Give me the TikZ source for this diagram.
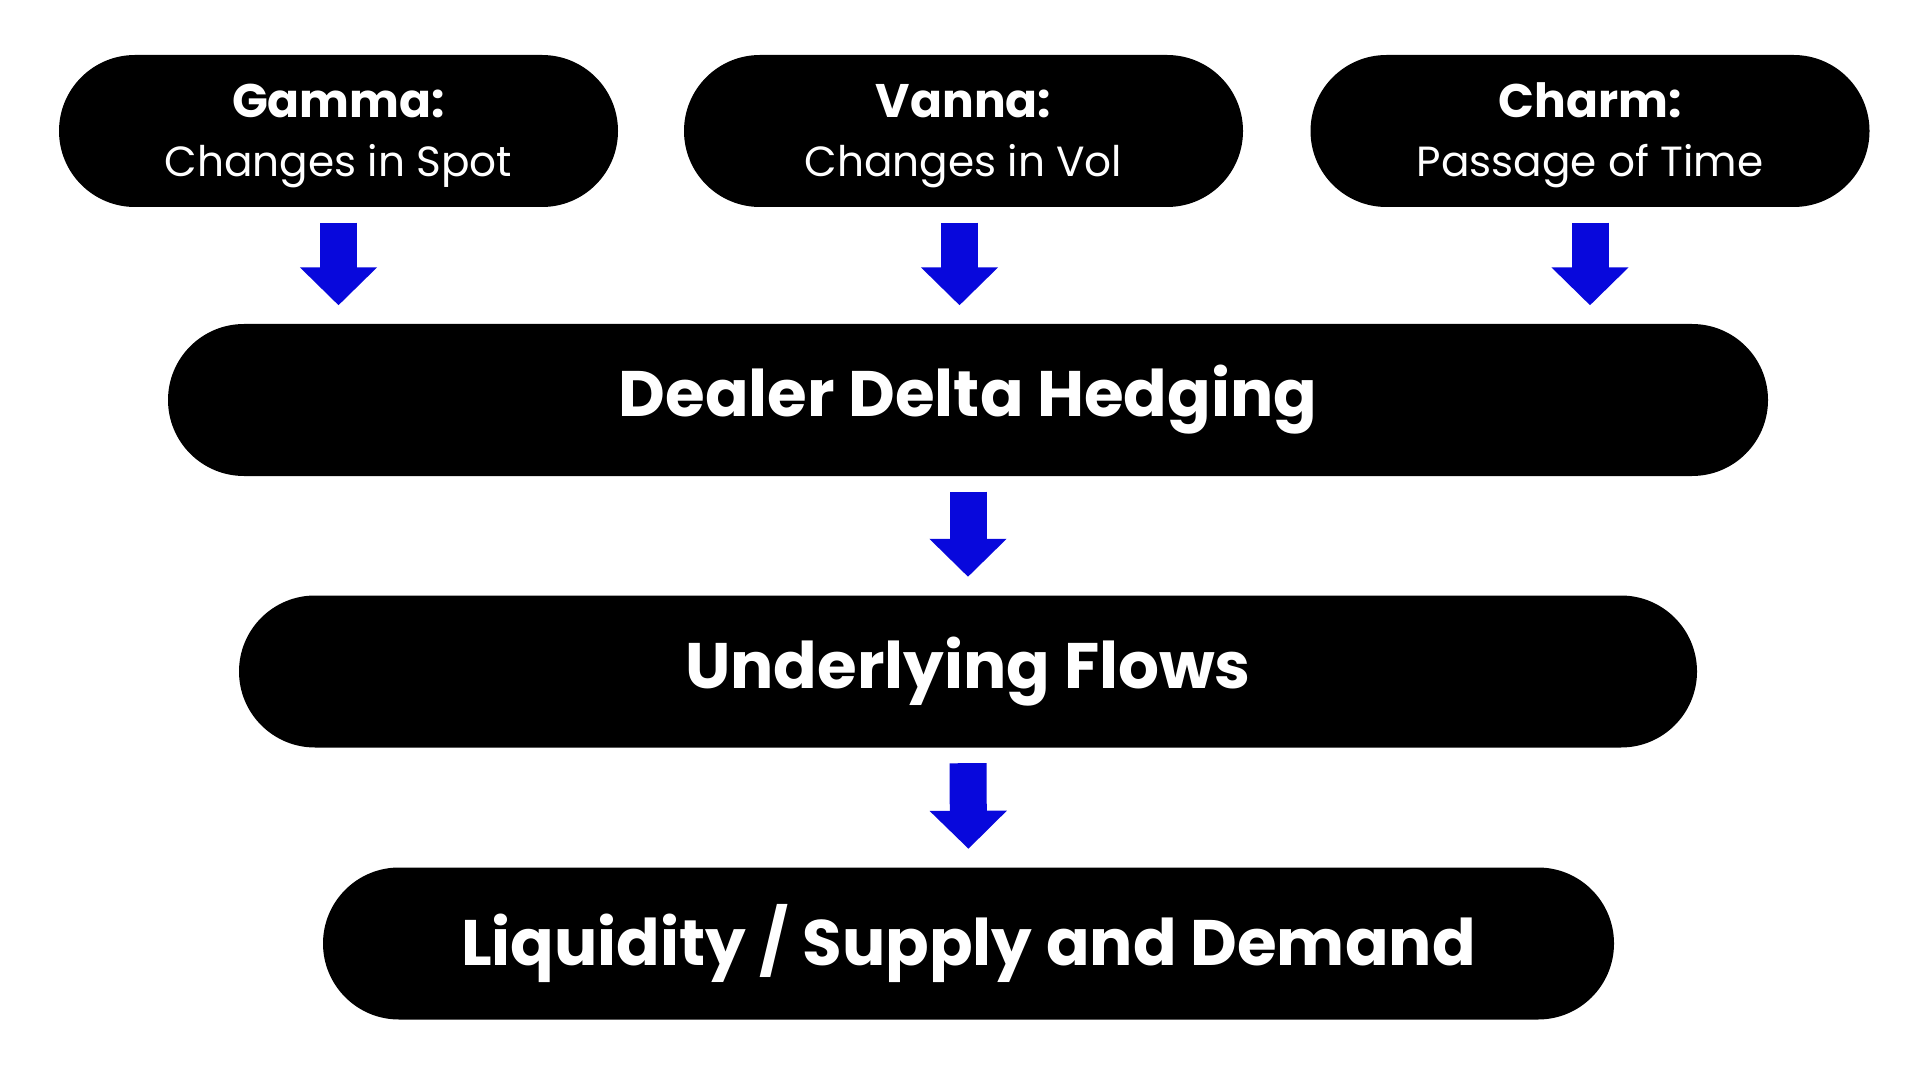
\documentclass[tikz,border=0pt]{standalone}
\usepackage{fontspec}
\setmainfont{Poppins}
\usetikzlibrary{arrows.meta}
\definecolor{flowblue}{RGB}{8,8,220}
\newcommand{\greekname}[1]{{\fontsize{13.4}{16.8}\selectfont\bfseries\rule{0pt}{12.3pt}#1}}

\begin{document}
\begin{tikzpicture}[
    pill/.style={fill=black, text=white, rounded corners=0.76cm, minimum height=1.52cm, inner sep=0pt, align=center},
    greek/.style={pill, minimum width=5.59cm, font=\fontsize{12}{16.8}\selectfont},
    stage/.style={pill, font=\fontsize{18.3}{22}\selectfont\bfseries},
    flow/.style={flowblue, line width=0.37cm, -{Triangle[width=0.75cm,length=0.38cm]}, shorten <=0.15cm, shorten >=0.18cm}
]
    \useasboundingbox (0,0) rectangle (19.2,-10.8);
    % the three greeks
    \node[greek] (gamma) at (3.385,-1.31) {\greekname{Gamma:}\\Changes in Spot};
    \node[greek] (vanna) at (9.635,-1.31) {\greekname{Vanna:}\\Changes in Vol};
    \node[greek] (charm) at (15.90,-1.31) {\greekname{Charm:}\\Passage of Time};
    % chain below
    \node[stage, minimum width=16.00cm] (dealer) at (9.68,-4.00) {Dealer Delta Hedging};
    \node[stage, minimum width=14.58cm] (under) at (9.68,-6.715) {Underlying Flows};
    \node[stage, minimum width=12.91cm] (liquid) at (9.685,-9.435) {Liquidity / Supply and Demand};
    % arrows
    \draw[flow] (gamma.south) -- (gamma.south |- dealer.north);
    \draw[flow] ([xshift=-0.04cm]vanna.south) -- ([xshift=-0.04cm]vanna.south |- dealer.north);
    \draw[flow] (charm.south) -- (charm.south |- dealer.north);
    \draw[flow] (dealer.south) -- (under.north);
    \draw[flow] (under.south) -- (liquid.north);
\end{tikzpicture}
\end{document}
